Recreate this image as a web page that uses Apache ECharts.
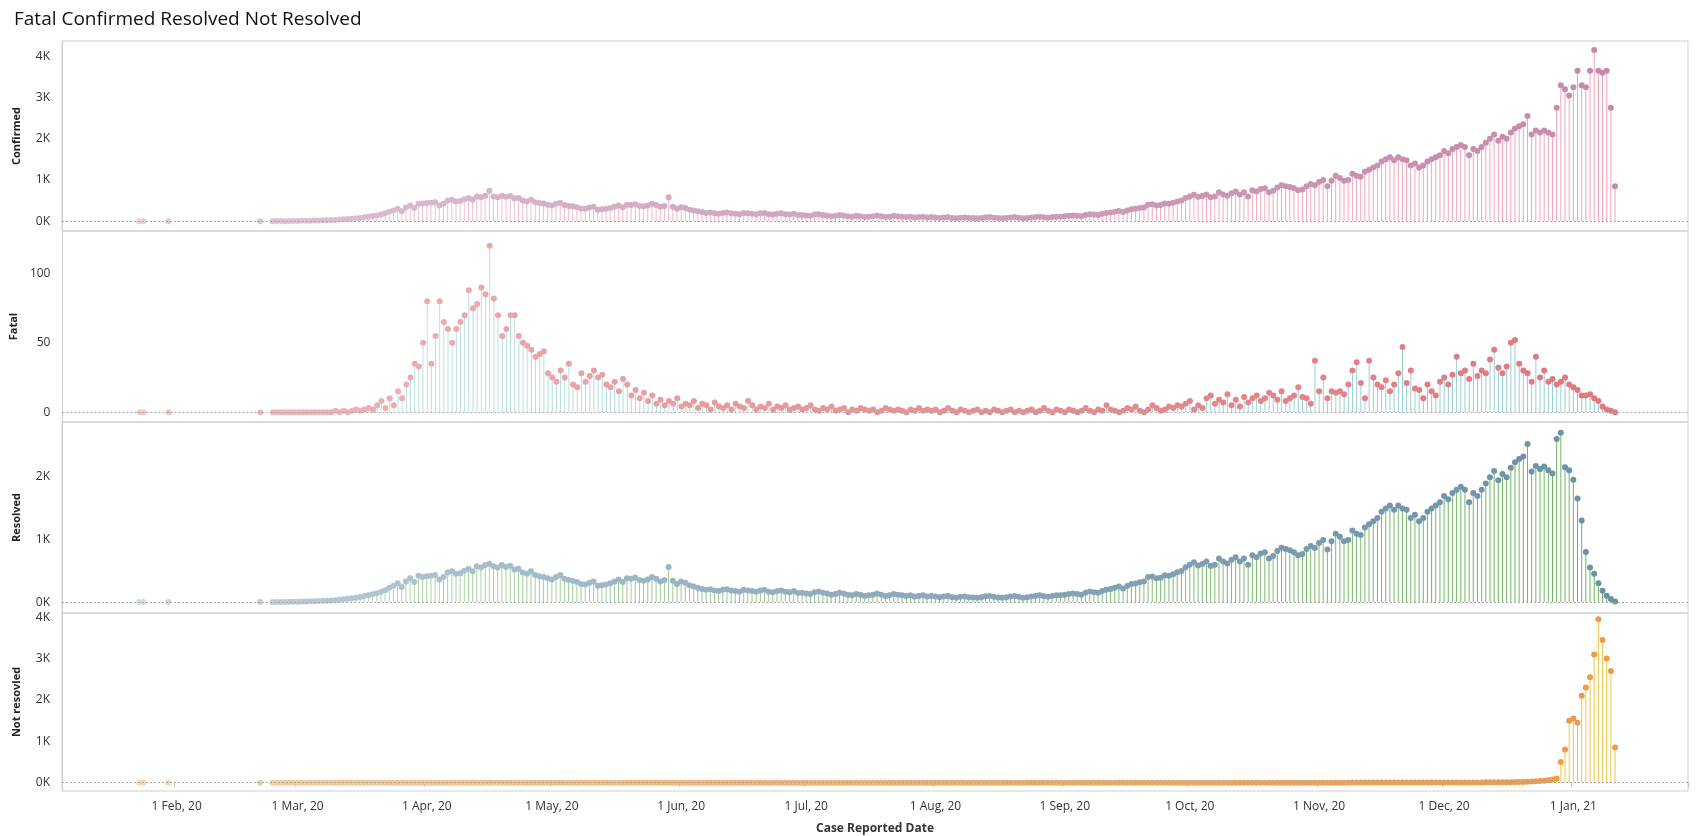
<!DOCTYPE html>
<html><head><meta charset="utf-8">
<script src="https://cdn.jsdelivr.net/npm/echarts@6/dist/echarts.min.js"></script>
<style>html,body{margin:0;padding:0;background:#fff}#c{width:1701px;height:836px}</style>
</head><body><div id="c"></div>
<script>
// sparse early reports
const earlyDates = ['2020-01-23','2020-01-24','2020-01-30','2020-02-21'];
const earlyConfirmed = [1,1,1,1];
const earlyFatal = [0,0,0,0];
const earlyResolved = [1,1,1,1];
const earlyNotResolved = [0,0,0,0];
// daily series from 2020-02-24 to 2021-01-11
const dailyStart = '2020-02-24';
const confirmedFeb=[1,2,2,1,4];
const confirmedMar=[5,6,8,10,12,14,16,20,22,26,30,38,45,55,62,70,80,95,110,125,140,160,190,230,260,300,240,330,380,320,420];
const confirmedApr=[430,440,450,460,380,420,500,520,480,490,530,560,520,600,580,620,740,600,580,620,590,610,550,560,500,480,520,460,440,430];
const confirmedMay=[400,380,420,450,390,370,360,340,310,300,330,350,280,290,300,320,350,380,340,400,390,410,370,360,380,420,390,350,370,580,350];
const confirmedJun=[300,340,320,280,260,240,220,200,210,190,180,200,210,190,180,170,200,190,180,170,190,200,170,160,180,190,170,160,180,150];
const confirmedJul=[150,140,130,160,170,150,140,120,130,150,140,120,110,130,120,100,110,120,140,120,100,110,130,120,110,100,110,90,100,110,90];
const confirmedAug=[100,90,80,90,100,80,70,85,90,80,75,70,80,95,100,85,75,70,80,90,100,85,70,80,90,100,110,95,85,100,110];
const confirmedSep=[110,120,130,140,130,120,150,170,160,150,180,200,210,230,250,220,260,290,300,320,330,400,410,380,390,430,420,450,480,500];
const confirmedOct=[560,600,640,590,610,650,580,600,700,650,620,680,720,650,700,600,750,720,780,800,700,740,820,870,850,830,800,750,770,850,900];
const confirmedNov=[870,950,1000,850,980,1100,1050,980,1000,1150,1100,1080,1200,1250,1300,1350,1450,1500,1550,1480,1550,1500,1480,1350,1400,1300,1350,1450,1500,1550];
const confirmedDec=[1600,1700,1650,1750,1800,1850,1800,1600,1750,1700,1800,1900,2000,2100,1950,2050,2000,2150,2250,2300,2350,2550,2100,2200,2150,2200,2150,2100,2750,3300,3200];
const confirmedJan=[3050,3250,3650,3300,3250,3650,4150,3650,3600,3650,2750,850];

const fatalFeb=[0,0,0,0,0];
const fatalMar=[0,0,0,0,0,0,0,0,0,0,1,0,1,0,1,2,1,2,3,2,5,8,3,10,5,15,10,20,25,35,33];
const fatalApr=[50,80,35,55,80,65,60,50,60,65,70,88,75,78,90,85,120,82,70,55,60,70,70,55,50,48,45,40,42,44];
const fatalMay=[28,25,22,30,25,35,20,18,28,22,26,30,25,27,20,18,22,15,24,20,12,16,10,14,8,12,6,9,5,8,6];
const fatalJun=[10,4,6,5,8,3,6,5,2,7,4,3,5,2,6,4,3,8,5,2,4,3,6,2,4,3,5,2,3,4];
const fatalJul=[2,3,5,2,1,3,2,4,1,2,3,0,2,1,3,2,1,2,0,1,3,2,1,2,1,0,2,1,3,1,2];
const fatalAug=[1,2,0,1,3,1,0,2,1,0,1,2,0,1,0,2,1,0,1,2,0,1,0,1,2,0,1,3,1,0,2];
const fatalSep=[1,0,2,1,0,1,3,1,0,2,1,5,2,1,0,1,3,2,4,1,0,2,5,3,1,2,4,3,5,4];
const fatalOct=[6,8,2,5,3,10,12,6,9,7,13,5,9,4,11,7,10,12,8,10,14,12,9,15,8,10,12,18,11,10,6];
const fatalNov=[37,15,25,10,15,14,15,13,20,30,36,21,10,37,25,20,18,23,15,20,28,47,21,30,17,16,10,20,15,12];
const fatalDec=[22,25,20,27,40,28,30,24,35,26,30,28,38,45,32,28,33,50,52,35,30,28,22,40,25,30,22,24,20,22,25];
const fatalJan=[20,18,16,12,12,13,10,8,4,2,1,0];

const resolvedFeb=[1,2,2,1,4];
const resolvedMar=[5,6,8,10,12,14,16,20,22,26,30,38,45,55,62,70,80,95,110,125,140,160,190,230,260,300,240,330,380,320,420];
const resolvedApr=[400,410,420,430,360,400,470,490,450,460,500,530,490,570,550,590,610,570,550,590,560,580,520,530,470,450,490,430,410,400];
const resolvedMay=[380,360,400,430,370,350,340,320,290,280,310,330,260,270,280,300,330,360,320,380,370,390,350,340,360,400,370,330,350,560,340];
const resolvedJun=[290,330,310,270,250,230,210,195,205,185,175,195,205,185,175,165,195,185,175,165,185,195,165,155,175,185,165,155,175,145];
const resolvedJul=[148,138,128,158,168,148,138,118,128,148,138,118,108,128,118,98,108,118,138,118,98,108,128,118,108,98,108,88,98,108,88];
const resolvedAug=[98,88,78,88,98,78,68,83,88,78,73,68,78,93,98,83,73,68,78,88,98,83,68,78,88,98,108,93,83,98,108];
const resolvedSep=[108,118,128,138,128,118,148,168,158,148,178,198,208,228,248,218,258,288,298,318,328,398,408,378,388,428,418,445,475,495];
const resolvedOct=[555,595,635,585,605,645,575,595,695,645,615,675,715,645,695,595,745,715,775,795,695,735,815,865,845,825,795,745,765,845,895];
const resolvedNov=[860,940,990,840,970,1090,1040,970,990,1140,1090,1070,1190,1240,1290,1340,1440,1490,1540,1470,1540,1490,1470,1340,1390,1290,1340,1440,1490,1540];
const resolvedDec=[1590,1690,1640,1740,1790,1840,1790,1590,1740,1690,1790,1890,1990,2090,1940,2040,1990,2140,2230,2280,2320,2520,2080,2170,2120,2160,2100,2050,2600,2700,2150];
const resolvedJan=[2100,1950,1650,1300,800,550,450,300,180,100,50,10];

const notResolvedFeb=[0,0,0,0,0];
const notResolvedMar=[0,0,0,0,0,0,0,0,0,0,0,0,0,0,0,0,0,0,0,0,0,0,0,0,0,0,0,0,0,0,0];
const notResolvedApr=[0,0,0,0,0,0,0,0,0,0,0,0,0,0,0,0,0,0,0,0,0,0,0,0,0,0,0,0,0,0];
const notResolvedMay=[0,0,0,0,0,0,0,0,0,0,0,0,0,0,0,0,0,0,0,0,0,0,0,0,0,0,0,0,0,0,0];
const notResolvedJun=[0,0,0,0,0,0,0,0,0,0,0,0,0,0,0,0,0,0,0,0,0,0,0,0,0,0,0,0,0,0];
const notResolvedJul=[0,0,0,0,0,0,0,0,0,0,0,0,0,0,0,0,0,0,0,0,0,0,0,0,0,0,0,0,0,0,0];
const notResolvedAug=[0,0,0,0,0,0,0,0,0,0,0,0,0,0,0,0,0,0,0,0,0,0,0,0,0,0,0,0,0,0,0];
const notResolvedSep=[0,0,0,0,0,0,0,0,0,0,0,0,0,0,0,0,0,0,0,0,0,0,0,0,0,0,0,0,0,0];
const notResolvedOct=[1,1,1,1,1,1,1,1,1,1,1,1,1,1,1,1,1,1,1,1,1,1,1,1,1,1,1,1,1,1,1];
const notResolvedNov=[2,2,2,2,2,2,2,2,2,3,3,3,3,3,3,3,3,3,3,4,4,4,4,4,4,4,5,5,5,5];
const notResolvedDec=[5,5,6,6,6,7,7,7,8,8,8,9,9,10,10,11,12,13,15,17,20,25,30,35,40,50,60,80,100,500,800];
const notResolvedJan=[1500,1550,1450,2100,2300,2550,3100,3950,3450,3000,2700,850];

const monthLabels = ['1 Feb, 20','1 Mar, 20','1 Apr, 20','1 May, 20','1 Jun, 20','1 Jul, 20','1 Aug, 20','1 Sep, 20','1 Oct, 20','1 Nov, 20','1 Dec, 20','1 Jan, 21'];

const cat=[];
const d0=new Date(Date.UTC(2020,0,5)), d1=new Date(Date.UTC(2021,0,28));
for(let t=d0.getTime();t<=d1.getTime();t+=86400000){cat.push(new Date(t).toISOString().slice(0,10));}
function build(early, months){
  const arr=cat.map(()=>null);
  earlyDates.forEach((d,i)=>{arr[cat.indexOf(d)]=early[i];});
  const flat=[].concat(...months);
  const s=cat.indexOf(dailyStart);
  flat.forEach((v,i)=>{arr[s+i]=v;});
  return arr;
}
const confirmed=build(earlyConfirmed,[confirmedFeb,confirmedMar,confirmedApr,confirmedMay,confirmedJun,confirmedJul,confirmedAug,confirmedSep,confirmedOct,confirmedNov,confirmedDec,confirmedJan]);
const fatal=build(earlyFatal,[fatalFeb,fatalMar,fatalApr,fatalMay,fatalJun,fatalJul,fatalAug,fatalSep,fatalOct,fatalNov,fatalDec,fatalJan]);
const resolved=build(earlyResolved,[resolvedFeb,resolvedMar,resolvedApr,resolvedMay,resolvedJun,resolvedJul,resolvedAug,resolvedSep,resolvedOct,resolvedNov,resolvedDec,resolvedJan]);
const notResolved=build(earlyNotResolved,[notResolvedFeb,notResolvedMar,notResolvedApr,notResolvedMay,notResolvedJun,notResolvedJul,notResolvedAug,notResolvedSep,notResolvedOct,notResolvedNov,notResolvedDec,notResolvedJan]);

function hex(h){return [parseInt(h.slice(1,3),16),parseInt(h.slice(3,5),16),parseInt(h.slice(5,7),16)];}
function lerp(a,b,t){const A=hex(a),B=hex(b);return 'rgb('+A.map((x,i)=>Math.round(x+(B[i]-x)*t)).join(',')+')';}
const sIdx=cat.indexOf('2020-01-23'), eIdx=cat.indexOf('2021-01-11');
function grad(a,b){return p=>{let t=(p.dataIndex-sIdx)/(eIdx-sIdx);t=Math.max(0,Math.min(1,t));t=Math.pow(t,0.6);return lerp(a,b,t);};}

const panels=[
 {name:'Confirmed',data:confirmed,min:-238,max:4371,ticks:[0,1000,2000,3000,4000],k:true,top:41,h:190,stem:['#f1d3dc','#f2a3b9'],dot:['#e3d3dd','#c58aaa']},
 {name:'Fatal',data:fatal,min:-7.1,max:130.7,ticks:[0,50,100],k:false,top:231,h:191,stem:['#d6ecee','#92cdd1'],dot:['#f3c9cc','#e0787d']},
 {name:'Resolved',data:resolved,min:-174,max:2870,ticks:[0,1000,2000],k:true,top:422,h:191,stem:['#d4e8cd','#6db35f'],dot:['#d3dee8','#6b90a6']},
 {name:'Not resovled',data:notResolved,min:-200,max:4100,ticks:[0,1000,2000,3000,4000],k:true,top:613,h:188,stem:['#f7e2b0','#f0c64a'],dot:['#f9d9b8','#ef9a44']}
];
const font='"Open Sans", "Noto Sans", sans-serif';
const grid=[],xAxis=[],yAxis=[],series=[];
panels.forEach((p,i)=>{
  grid.push({left:62,right:13,top:p.top,height:p.h,show:true,borderColor:'#cfcfcf',borderWidth:1});
  const last=i===panels.length-1;
  xAxis.push({type:'category',gridIndex:i,data:cat,boundaryGap:true,
    axisLine:{show:false},axisTick:{show:last,length:4,lineStyle:{color:'#bbb'},interval:(idx,v)=>v.slice(8)==='01'&&v>'2020-01-31'},
    axisLabel:{show:last,interval:(idx,v)=>v.slice(8)==='01'&&v>'2020-01-31',color:'#333',fontSize:12,fontFamily:font,margin:10,
      formatter:v=>{const m=+v.slice(5,7)-1;return monthLabels[(m+11)%12];}},
    name:last?'Case Reported Date':'',nameLocation:'middle',nameGap:32,
    nameTextStyle:{fontWeight:'bold',fontSize:12,color:'#333',fontFamily:font}});
  yAxis.push({type:'value',gridIndex:i,min:p.min,max:p.max,
    axisLine:{show:true,lineStyle:{color:'#cfcfcf'}},axisTick:{show:false},splitLine:{show:false},
    axisLabel:{customValues:p.ticks,color:'#333',fontSize:12,fontFamily:font,margin:12,formatter:v=>p.k?(v/1000)+'K':String(v)},
    name:p.name,nameLocation:'middle',nameGap:40,nameRotate:90,
    nameTextStyle:{fontWeight:'bold',fontSize:11,color:'#222',fontFamily:font}});
  series.push({type:'bar',xAxisIndex:i,yAxisIndex:i,data:p.data,barWidth:1,itemStyle:{color:grad(p.stem[0],p.stem[1])},
    silent:true,animation:false,
    markLine:{symbol:'none',silent:true,label:{show:false},lineStyle:{color:'#aaa',type:[2,2],width:1},data:[{yAxis:0}]}});
  series.push({type:'scatter',xAxisIndex:i,yAxisIndex:i,data:p.data,symbolSize:6,itemStyle:{color:grad(p.dot[0],p.dot[1]),opacity:1},animation:false,z:3});
});
const chart=echarts.init(document.getElementById('c'));
chart.setOption({
  title:{text:'Fatal Confirmed Resolved Not Resolved',left:9,top:5,textStyle:{fontSize:19,fontWeight:'normal',color:'#111',fontFamily:font}},
  grid,xAxis,yAxis,series,animation:false
});
</script></body></html>
